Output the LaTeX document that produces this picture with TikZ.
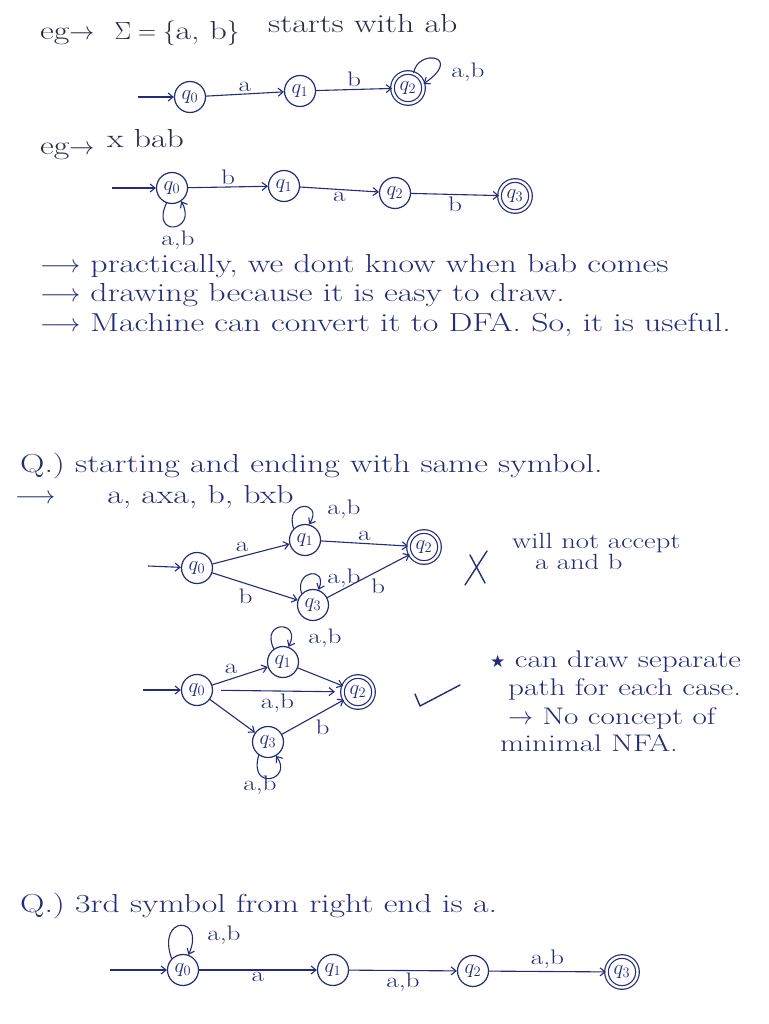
\documentclass[tikz,border=0pt]{standalone}
\usepackage{fontspec}
\usetikzlibrary{arrows.meta}
\newfontfamily\hand[FakeStretch=1.3]{Latin Modern Roman}
\newfontfamily\symfont{DejaVu Sans}
\definecolor{ink}{RGB}{36,44,120}
\definecolor{inkdark}{RGB}{40,42,72}
\tikzset{
  txt/.style={anchor=base west, inner sep=0pt, text=ink, font=\hand\fontsize{26}{28}\selectfont},
  notetxt/.style={txt, font=\hand\fontsize{24}{26}\selectfont},
  smalltxt/.style={txt, font=\hand\fontsize{22}{24}\selectfont},
  st/.style={circle, draw=ink, line width=1.2pt, minimum size=31pt, inner sep=0pt, text=ink, font=\fontsize{21}{21}\selectfont},
  acc/.style={st, double=white, double distance=2.4pt, minimum size=31pt},
  tr/.style={->, draw=ink, line width=1.1pt},
  lbl/.style={text=ink, inner sep=2pt, font=\hand\fontsize{21}{22}\selectfont},
  penstroke/.style={draw=ink, line width=1.4pt, line cap=round, line join=round},
  >={Straight Barb[length=5pt,width=8pt]}
}
\begin{document}
\begin{tikzpicture}[x=1pt,y=-1pt]
\useasboundingbox[fill=white] (0,0) rectangle (768,1024);

% ---------- example 1 ----------
\node[txt, text=inkdark] (t1) at (40,40) {eg$\rightarrow$\ \ $\Sigma = \{$a, b$\}$};
\node[txt, text=inkdark] (t2) at (268,33) {starts with ab};
\node[st] (a0) at (190,97) {$q_0$};
\node[st] (a1) at (300,91) {$q_1$};
\node[acc] (a2) at (408,88) {$q_2$};
\coordinate (ain) at (138,97);
\draw[tr] (ain) -- (a0);
\draw[tr] (a0) -- node[lbl,above] {a} (a1);
\draw[tr] (a1) -- node[lbl,above] {b} (a2);
\draw[tr] (a2.70) .. controls (418,48) and (464,56) .. (a2.15);
\node[lbl] (a2l) at (468,72) {a,b};

% ---------- example 2 ----------
\node[txt, text=inkdark] (t3) at (40,155) {eg$\rightarrow$};
\node[txt, text=inkdark] (t4) at (107,148) {x bab};
\node[st] (b0) at (172,188) {$q_0$};
\node[st] (b1) at (284,186) {$q_1$};
\node[st] (b2) at (395,193) {$q_2$};
\node[acc] (b3) at (515,196) {$q_3$};
\coordinate (bin) at (112,188);
\draw[tr] (bin) -- (b0);
\draw[tr] (b0) -- node[lbl,above] {b} (b1);
\draw[tr] (b1) -- node[lbl,below] {a} (b2);
\draw[tr] (b2) -- node[lbl,below] {b} (b3);
\draw[tr] (b0.250) .. controls (150,238) and (198,232) .. (b0.305);
\node[lbl] (b0l) at (178,240) {a,b};

% ---------- notes ----------
\node[txt] (n1) at (40,272) {$\longrightarrow$ practically, we dont know when bab comes};
\node[txt] (n2) at (40,301) {$\longrightarrow$ drawing because it is easy to draw.};
\node[txt] (n3) at (40,331) {$\longrightarrow$ Machine can convert it to DFA. So, it is useful.};

% ---------- question 1 ----------
\node[txt] (q1t) at (20,472) {Q.) starting and ending with same symbol.};
\node[txt] (q1s) at (15,503) {$\longrightarrow$\qquad a, axa, b, bxb};

\node[st] (c0) at (197,568) {$q_0$};
\node[st] (c1) at (305,540) {$q_1$};
\node[acc] (c2) at (424,547) {$q_2$};
\node[st] (c3) at (313,605) {$q_3$};
\coordinate (cin) at (148,566);
\draw[tr] (cin) -- (c0);
\draw[tr] (c0) -- node[lbl,above left] {a} (c1);
\draw[tr] (c1) -- node[lbl,above] {a} (c2);
\draw[tr] (c0) -- node[lbl,below left] {b} (c3);
\draw[tr] (c3) -- node[lbl,below right] {b} (c2);
\draw[tr] (c1.135) .. controls (284,500) and (324,500) .. (c1.75);
\node[lbl] (c1l) at (344,509) {a,b};
\draw[tr] (c3.135) .. controls (294,570) and (328,566) .. (c3.70);
\node[lbl] (c3l) at (344,578) {a,b};
\draw[penstroke] (470,555) -- (485,583);
\draw[penstroke] (487,551) -- (465,585);
\node[smalltxt] (w1) at (512,548) {will not accept};
\node[smalltxt] (w2) at (535,569) {a and b};

% second automaton
\node[st] (d0) at (197,690) {$q_0$};
\node[st] (d1) at (283,662) {$q_1$};
\node[acc] (d2) at (358,692) {$q_2$};
\node[st] (d3) at (268,742) {$q_3$};
\coordinate (din) at (143,690);
\draw[tr] (din) -- (d0);
\draw[tr] (d0) -- node[lbl,above left] {a} (d1);
\draw[tr] (d1) -- (d2);
\draw[tr, shorten <=8pt, shorten >=7pt] (d0) -- node[lbl,below] {a,b} (d2);
\draw[tr] (d0) -- (d3);
\draw[tr] (d3) -- node[lbl,below right] {b} (d2);
\draw[tr] (d1.125) .. controls (260,620) and (302,620) .. (d1.70);
\node[lbl] (d1l) at (325,638) {a,b};
\draw[tr] (d3.235) .. controls (248,792) and (294,780) .. (d3.300);
\node[lbl] (d3l) at (260,785) {a,b};
\draw[penstroke] (415,694) -- (420,706) -- (460,685);
\node[notetxt] (s1) at (490,667) {{\symfont\fontsize{17}{17}\selectfont ★} can draw separate};
\node[notetxt] (s2) at (508,695) {path for each case.};
\node[notetxt] (s3) at (508,724) {$\rightarrow$ No concept of};
\node[notetxt] (s4) at (500,751) {minimal NFA.};

% ---------- question 2 ----------
\node[txt] (q2t) at (20,912) {Q.) 3rd symbol from right end is a.};
\node[st] (e0) at (183,970) {$q_0$};
\node[st] (e1) at (333,970) {$q_1$};
\node[st] (e2) at (473,971) {$q_2$};
\node[acc] (e3) at (622,972) {$q_3$};
\coordinate (ein) at (110,970);
\draw[tr] (ein) -- (e0);
\draw[tr] (e0) -- node[lbl,below] {a} (e1);
\draw[tr] (e1) -- node[lbl,below] {a,b} (e2);
\draw[tr] (e2) -- node[lbl,above] {a,b} (e3);
\draw[tr] (e0.135) .. controls (156,915) and (206,915) .. (e0.70);
\node[lbl] (e0l) at (224,935) {a,b};
\end{tikzpicture}
\end{document}
